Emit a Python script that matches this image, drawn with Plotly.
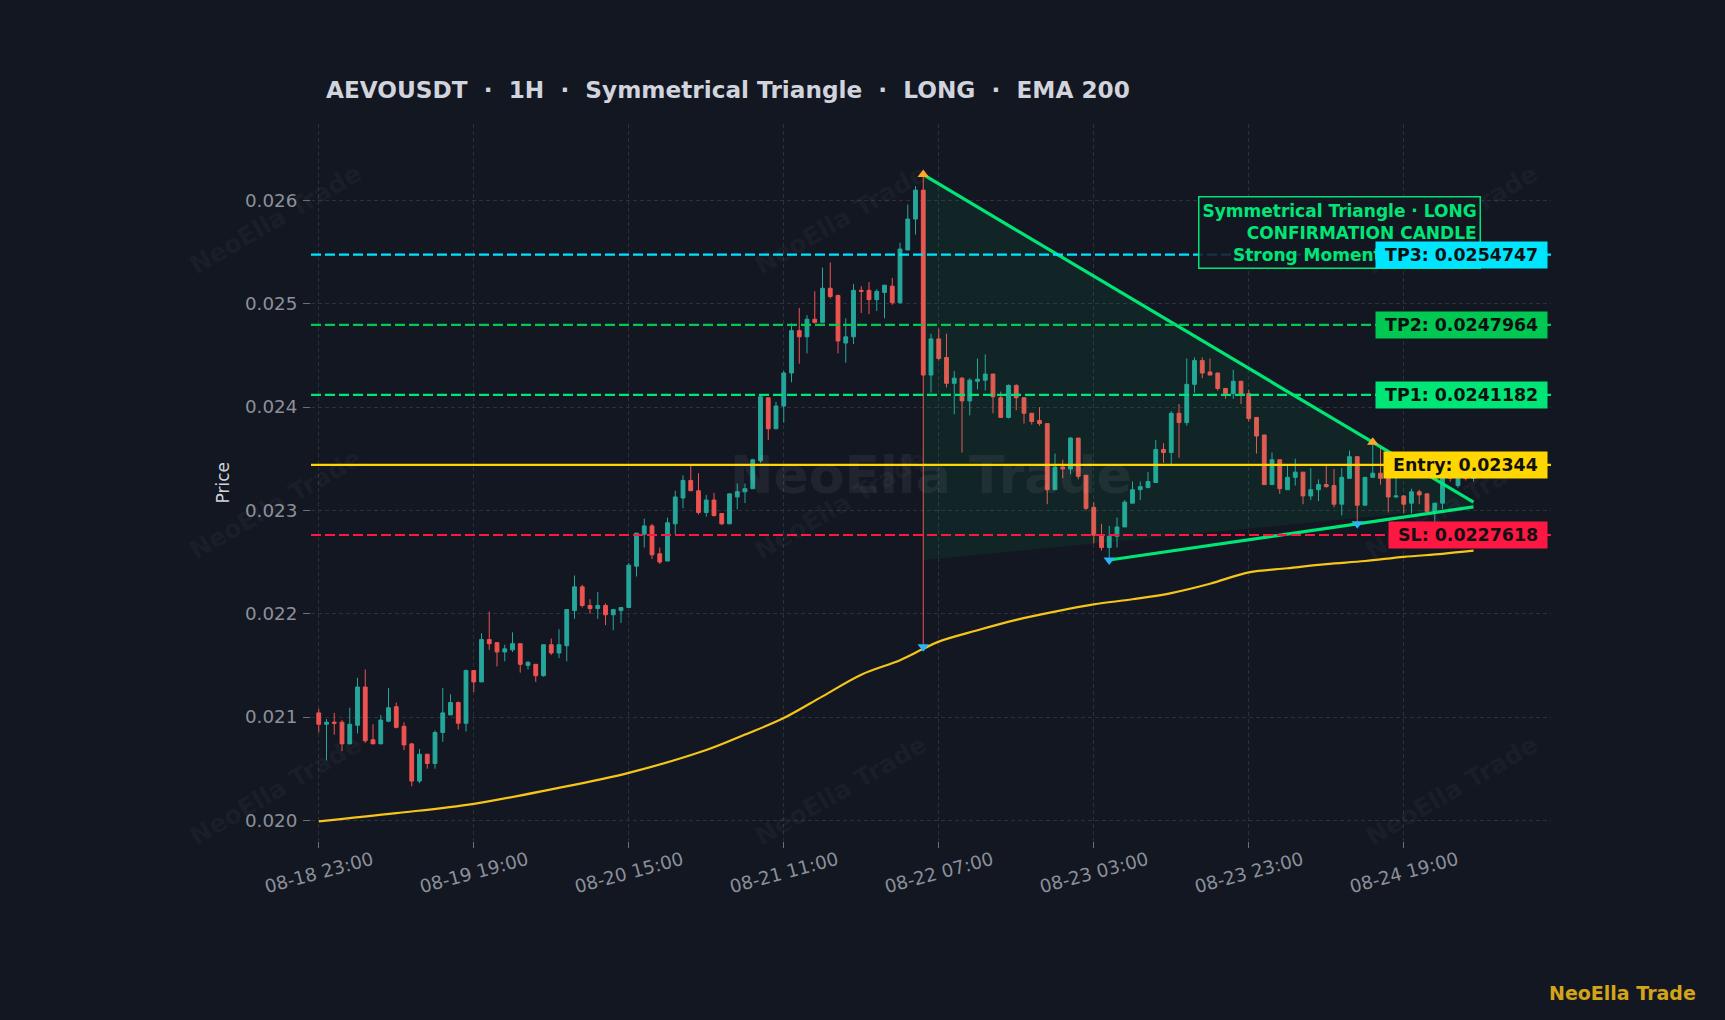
import plotly.graph_objects as go

# --- data (1H candles, index = hours from 08-18 23:00) ---
opens = [0.02104, 0.02093, 0.02095, 0.02095, 0.02074, 0.02092, 0.02129, 0.02078, 0.02074, 0.02096,
         0.02110, 0.02091, 0.02074, 0.02038, 0.02064, 0.02055, 0.02085, 0.02102, 0.02114, 0.02094,
         0.02145, 0.02134, 0.02175, 0.02172, 0.02163, 0.02165, 0.02171, 0.02150, 0.02151, 0.02140,
         0.02170, 0.02162, 0.02169, 0.02203, 0.02226, 0.02208, 0.02205, 0.02208, 0.02199, 0.02203,
         0.02206, 0.02246, 0.02277, 0.02285, 0.02258, 0.02251, 0.02287, 0.02312, 0.02329, 0.02319,
         0.02298, 0.02310, 0.02297, 0.02287, 0.02313, 0.02318, 0.02321, 0.02348, 0.02409, 0.02379,
         0.02401, 0.02433, 0.02474, 0.02468, 0.02485, 0.02482, 0.02515, 0.02508, 0.02462, 0.02468,
         0.02513, 0.02513, 0.02504, 0.02511, 0.02517, 0.02501, 0.02552, 0.02582, 0.02610, 0.02431,
         0.02466, 0.02448, 0.02423, 0.02428, 0.02406, 0.02425, 0.02426, 0.02432, 0.02409, 0.02390,
         0.02421, 0.02409, 0.02394, 0.02387, 0.02384, 0.02320, 0.02342, 0.02340, 0.02370, 0.02334,
         0.02303, 0.02276, 0.02264, 0.02275, 0.02284, 0.02307, 0.02320, 0.02322, 0.02327, 0.02359,
         0.02356, 0.02394, 0.02385, 0.02422, 0.02445, 0.02434, 0.02433, 0.02418, 0.02413, 0.02425,
         0.02413, 0.02390, 0.02373, 0.02325, 0.02349, 0.02320, 0.02332, 0.02337, 0.02314, 0.02320,
         0.02325, 0.02324, 0.02306, 0.02331, 0.02352, 0.02305, 0.02332, 0.02336, 0.02334, 0.02313,
         0.02314, 0.02307, 0.02318, 0.02316, 0.02299, 0.02307, 0.02335, 0.02324, 0.02335, 0.02331]
highs = [0.02108, 0.02098, 0.02104, 0.02097, 0.02109, 0.02138, 0.02146, 0.02093, 0.02102, 0.02128,
         0.02114, 0.02095, 0.02075, 0.02069, 0.02064, 0.02087, 0.02128, 0.02122, 0.02115, 0.02146,
         0.02145, 0.02181, 0.02202, 0.02172, 0.02170, 0.02182, 0.02171, 0.02154, 0.02151, 0.02170,
         0.02176, 0.02185, 0.02204, 0.02237, 0.02228, 0.02214, 0.02221, 0.02210, 0.02204, 0.02206,
         0.02249, 0.02278, 0.02292, 0.02287, 0.02264, 0.02293, 0.02319, 0.02334, 0.02343, 0.02336,
         0.02315, 0.02317, 0.02297, 0.02316, 0.02326, 0.02326, 0.02350, 0.02412, 0.02409, 0.02405,
         0.02435, 0.02481, 0.02496, 0.02489, 0.02512, 0.02535, 0.02540, 0.02509, 0.02486, 0.02519,
         0.02517, 0.02521, 0.02514, 0.02518, 0.02525, 0.02559, 0.02596, 0.02614, 0.02625, 0.02471,
         0.02476, 0.02471, 0.02435, 0.02429, 0.02428, 0.02447, 0.02451, 0.02432, 0.02415, 0.02422,
         0.02422, 0.02409, 0.02394, 0.02400, 0.02384, 0.02355, 0.02349, 0.02371, 0.02370, 0.02334,
         0.02308, 0.02287, 0.02285, 0.02293, 0.02310, 0.02328, 0.02328, 0.02337, 0.02368, 0.02365,
         0.02396, 0.02403, 0.02447, 0.02448, 0.02448, 0.02447, 0.02433, 0.02418, 0.02436, 0.02425,
         0.02417, 0.02390, 0.02373, 0.02356, 0.02349, 0.02343, 0.02350, 0.02337, 0.02341, 0.02330,
         0.02345, 0.02340, 0.02341, 0.02358, 0.02352, 0.02332, 0.02366, 0.02363, 0.02345, 0.02333,
         0.02315, 0.02321, 0.02320, 0.02316, 0.02307, 0.02339, 0.02339, 0.02339, 0.02337, 0.02340]
lows = [0.02085, 0.02058, 0.02083, 0.02067, 0.02074, 0.02084, 0.02075, 0.02074, 0.02074, 0.02095,
        0.02089, 0.02068, 0.02033, 0.02036, 0.02050, 0.02050, 0.02076, 0.02102, 0.02088, 0.02086,
        0.02124, 0.02134, 0.02165, 0.02149, 0.02154, 0.02163, 0.02143, 0.02146, 0.02134, 0.02139,
        0.02160, 0.02157, 0.02154, 0.02195, 0.02206, 0.02200, 0.02195, 0.02189, 0.02184, 0.02191,
        0.02206, 0.02236, 0.02264, 0.02253, 0.02248, 0.02251, 0.02277, 0.02302, 0.02319, 0.02296,
        0.02294, 0.02294, 0.02286, 0.02287, 0.02301, 0.02307, 0.02321, 0.02346, 0.02368, 0.02379,
        0.02385, 0.02424, 0.02442, 0.02452, 0.02481, 0.02482, 0.02505, 0.02452, 0.02443, 0.02461,
        0.02491, 0.02490, 0.02493, 0.02486, 0.02499, 0.02500, 0.02552, 0.02567, 0.02168, 0.02414,
        0.02445, 0.02419, 0.02393, 0.02356, 0.02392, 0.02417, 0.02416, 0.02394, 0.02390, 0.02389,
        0.02397, 0.02384, 0.02383, 0.02382, 0.02306, 0.02320, 0.02331, 0.02335, 0.02330, 0.02300,
        0.02268, 0.02261, 0.02252, 0.02264, 0.02284, 0.02307, 0.02310, 0.02322, 0.02327, 0.02346,
        0.02344, 0.02351, 0.02382, 0.02414, 0.02428, 0.02431, 0.02416, 0.02408, 0.02408, 0.02403,
        0.02386, 0.02355, 0.02325, 0.02325, 0.02316, 0.02320, 0.02324, 0.02306, 0.02310, 0.02309,
        0.02322, 0.02303, 0.02295, 0.02331, 0.02287, 0.02305, 0.02332, 0.02325, 0.02298, 0.02312,
        0.02297, 0.02297, 0.02306, 0.02299, 0.02289, 0.02301, 0.02328, 0.02322, 0.02329, 0.02328]
closes = [0.02093, 0.02095, 0.02094, 0.02074, 0.02093, 0.02129, 0.02077, 0.02074, 0.02097, 0.02109,
          0.02090, 0.02073, 0.02038, 0.02064, 0.02055, 0.02085, 0.02104, 0.02114, 0.02094, 0.02145,
          0.02134, 0.02175, 0.02171, 0.02163, 0.02166, 0.02171, 0.02151, 0.02153, 0.02140, 0.02170,
          0.02162, 0.02170, 0.02204, 0.02226, 0.02208, 0.02205, 0.02208, 0.02199, 0.02204, 0.02206,
          0.02247, 0.02278, 0.02285, 0.02257, 0.02250, 0.02288, 0.02313, 0.02329, 0.02319, 0.02298,
          0.02310, 0.02295, 0.02287, 0.02316, 0.02318, 0.02321, 0.02349, 0.02410, 0.02379, 0.02401,
          0.02433, 0.02474, 0.02468, 0.02485, 0.02482, 0.02515, 0.02507, 0.02464, 0.02468, 0.02513,
          0.02512, 0.02504, 0.02512, 0.02518, 0.02501, 0.02553, 0.02582, 0.02610, 0.02431, 0.02466,
          0.02447, 0.02423, 0.02428, 0.02406, 0.02426, 0.02427, 0.02432, 0.02410, 0.02390, 0.02421,
          0.02409, 0.02394, 0.02386, 0.02384, 0.02320, 0.02342, 0.02340, 0.02370, 0.02333, 0.02302,
          0.02276, 0.02264, 0.02275, 0.02284, 0.02308, 0.02320, 0.02323, 0.02328, 0.02359, 0.02356,
          0.02394, 0.02385, 0.02422, 0.02445, 0.02433, 0.02431, 0.02418, 0.02413, 0.02425, 0.02412,
          0.02389, 0.02372, 0.02325, 0.02349, 0.02321, 0.02332, 0.02337, 0.02314, 0.02320, 0.02325,
          0.02323, 0.02306, 0.02332, 0.02352, 0.02305, 0.02332, 0.02336, 0.02331, 0.02313, 0.02314,
          0.02306, 0.02318, 0.02315, 0.02299, 0.02307, 0.02333, 0.02331, 0.02335, 0.02331, 0.02336]
idx = list(range(len(closes)))

# EMA 200 read at sample hours
ema_hours = [0, 10, 20, 30, 40, 50, 55, 60, 65, 70, 75, 78, 80, 85, 90, 95, 100, 105, 110,
             115, 120, 125, 130, 135, 140, 145, 149]
ema_vals = [0.01999, 0.02007, 0.02016, 0.02030, 0.02046, 0.02068, 0.02083, 0.02099, 0.02120,
            0.02141, 0.02155, 0.02166, 0.02173, 0.02184, 0.02194, 0.02202, 0.02209, 0.02214,
            0.02220, 0.02229, 0.02240, 0.02244, 0.02248, 0.02251, 0.02255, 0.02258, 0.02261]

tick_hours = [0, 20, 40, 60, 80, 100, 120, 140]
tick_labels = ['08-18 23:00', '08-19 19:00', '08-20 15:00', '08-21 11:00',
               '08-22 07:00', '08-23 03:00', '08-23 23:00', '08-24 19:00']

pivot_highs = [78, 136]
pivot_lows = [78, 102, 134]

entry = 0.02344
sl = 0.0227618
tp1 = 0.0241182
tp2 = 0.0247964
tp3 = 0.0254747

BG = '#131722'
FONT = 'DejaVu Sans'

fig = go.Figure()

# triangle lines from the pivots
last = idx[-1]
h0, h1 = pivot_highs
up_slope = (highs[h1] - highs[h0]) / (h1 - h0)
up_end = highs[h1] + up_slope * (last - h1)
l0, l1 = pivot_lows[1], pivot_lows[2]
lo_slope = (lows[l1] - lows[l0]) / (l1 - l0)
lo_end = lows[l1] + lo_slope * (last - l1)

# shaded triangle
fig.add_trace(go.Scatter(
    x=[h0, last, last, h0, h0],
    y=[highs[h0], up_end, lo_end, lows[l0], highs[h0]],
    fill='toself', fillcolor='rgba(0,230,118,0.07)',
    line=dict(width=0), mode='lines', hoverinfo='skip', showlegend=False))

# EMA 200
fig.add_trace(go.Scatter(x=ema_hours, y=ema_vals, mode='lines', line_shape='spline',
                         line=dict(color='#f5c518', width=2.2), showlegend=False))

fig.add_trace(go.Candlestick(
    x=idx, open=opens, high=highs, low=lows, close=closes,
    increasing=dict(line=dict(color='#26a69a', width=1), fillcolor='#26a69a'),
    decreasing=dict(line=dict(color='#ef5350', width=1), fillcolor='#ef5350'),
    whiskerwidth=0, showlegend=False))

# level lines
levels = [(tp3, '#00e5ff', 'dash'), (tp2, '#00c853', 'dash'), (tp1, '#00e676', 'dash'),
          (entry, '#ffd600', 'solid'), (sl, '#ff1744', 'dash')]
for val, col, dash in levels:
    fig.add_shape(type='line', xref='paper', x0=0, x1=1, y0=val, y1=val,
                  line=dict(color=col, width=2.2, dash='10px,4px' if dash == 'dash' else 'solid'))

# trendlines
fig.add_trace(go.Scatter(x=[h0, last], y=[highs[h0], up_end], mode='lines',
                         line=dict(color='#00e676', width=3.2), showlegend=False))
fig.add_trace(go.Scatter(x=[l0, last], y=[lows[l0], lo_end], mode='lines',
                         line=dict(color='#00e676', width=3.2), showlegend=False))

# pivot markers
fig.add_trace(go.Scatter(x=pivot_highs, y=[highs[i] for i in pivot_highs], mode='markers',
                         marker=dict(symbol='triangle-up', size=10, color='#ffa726'),
                         showlegend=False))
fig.add_trace(go.Scatter(x=pivot_lows, y=[lows[i] for i in pivot_lows], mode='markers',
                         marker=dict(symbol='triangle-down', size=10, color='#29b6f6'),
                         showlegend=False))

ann = []
# watermarks
for wx in [-0.029, 0.427, 0.92]:
    for wy in [0.867, 0.469, 0.071]:
        ann.append(dict(x=wx, y=wy, xref='paper', yref='paper', text='NeoElla Trade',
                        xanchor='center', yanchor='middle', showarrow=False, textangle=-30,
                        font=dict(family=FONT, size=25, color='rgba(255,255,255,0.045)', weight='bold')))
ann.append(dict(x=0.5, y=0.51, xref='paper', yref='paper', text='NeoElla Trade', showarrow=False,
                xanchor='center', yanchor='middle',
                font=dict(family=FONT, size=52, color='rgba(255,255,255,0.06)', weight='bold')))

# x tick labels, centred under the ticks
for t, lab in zip(tick_hours, tick_labels):
    ann.append(dict(x=t, y=-0.0435, xref='x', yref='paper', text=lab, showarrow=False,
                    xanchor='center', yanchor='middle', textangle=-15,
                    font=dict(family=FONT, size=18.3, color='#8c909a')))

# info box (last line runs on under the TP3 tag)
ann.append(dict(x=0.9435, y=0.849, xref='paper', yref='paper', xanchor='right', yanchor='middle',
                align='right', showarrow=False,
                text='Symmetrical Triangle · LONG<br>CONFIRMATION CANDLE<br>Strong Momentum'
                     + '&nbsp;' * 11,
                font=dict(family=FONT, size=17, color='#00e676', weight='bold'),
                bgcolor='rgba(19,23,34,0.85)', bordercolor='#00e676', borderwidth=1.5, borderpad=3))

# price labels
labels = [(tp3, 'TP3: 0.0254747', '#00e5ff'), (tp2, 'TP2: 0.0247964', '#00c853'),
          (tp1, 'TP1: 0.0241182', '#00e676'), (entry, 'Entry: 0.02344', '#ffd600'),
          (sl, 'SL: 0.0227618', '#ff1744')]
for val, txt, col in labels:
    ann.append(dict(x=0.9975, y=val, xref='paper', yref='y', xanchor='right', yanchor='middle',
                    text=' ' + txt + ' ', showarrow=False, bgcolor=col, borderpad=3,
                    font=dict(family=FONT, size=17.4, color='#111111', weight='bold')))

ann.append(dict(x=-0.071, y=0.5, xref='paper', yref='paper', text='Price', textangle=-90,
                xanchor='center', yanchor='middle',
                showarrow=False, font=dict(family=FONT, size=17, color='#d1d4dc')))
ann.append(dict(x=1.1185, y=-0.212, xref='paper', yref='paper', xanchor='right', yanchor='middle',
                text='NeoElla Trade',
                showarrow=False, font=dict(family=FONT, size=19, color='#d4a418', weight='bold')))

fig.update_layout(
    width=1725, height=1020,
    margin=dict(l=311, r=174, t=124, b=179),
    paper_bgcolor=BG, plot_bgcolor=BG,
    title=dict(text='AEVOUSDT  ·  1H  ·  Symmetrical Triangle  ·  LONG  ·  EMA 200',
               x=326 / 1725, xref='container', xanchor='left', y=1 - 90 / 1020, yanchor='middle',
               font=dict(family=FONT, size=23.2, color='#d1d4dc', weight='bold')),
    annotations=ann,
    showlegend=False,
    font=dict(family=FONT),
)
fig.update_xaxes(range=[-1, 159], tickvals=tick_hours, ticktext=tick_labels, showticklabels=False,
                 showgrid=True, gridcolor='#2c303b', griddash='4px,3px', gridwidth=1,
                 zeroline=False, showline=False, ticks='outside', ticklen=6, tickcolor='#6b6f7a',
                 rangeslider=dict(visible=False))
fig.update_yaxes(range=[0.0198, 0.02674], tickvals=[0.020, 0.021, 0.022, 0.023, 0.024, 0.025, 0.026],
                 tickformat='.3f', showgrid=True, gridcolor='#2c303b', griddash='4px,3px', gridwidth=1,
                 zeroline=False, showline=False, ticks='outside', ticklen=7, tickcolor='#6b6f7a',
                 ticklabelstandoff=2,
                 tickfont=dict(family=FONT, size=18.3, color='#8c909a'))

fig.write_html('out.html', config={'displayModeBar': False},
               post_script="document.body.style.margin='0';document.body.style.background='#131722';")
